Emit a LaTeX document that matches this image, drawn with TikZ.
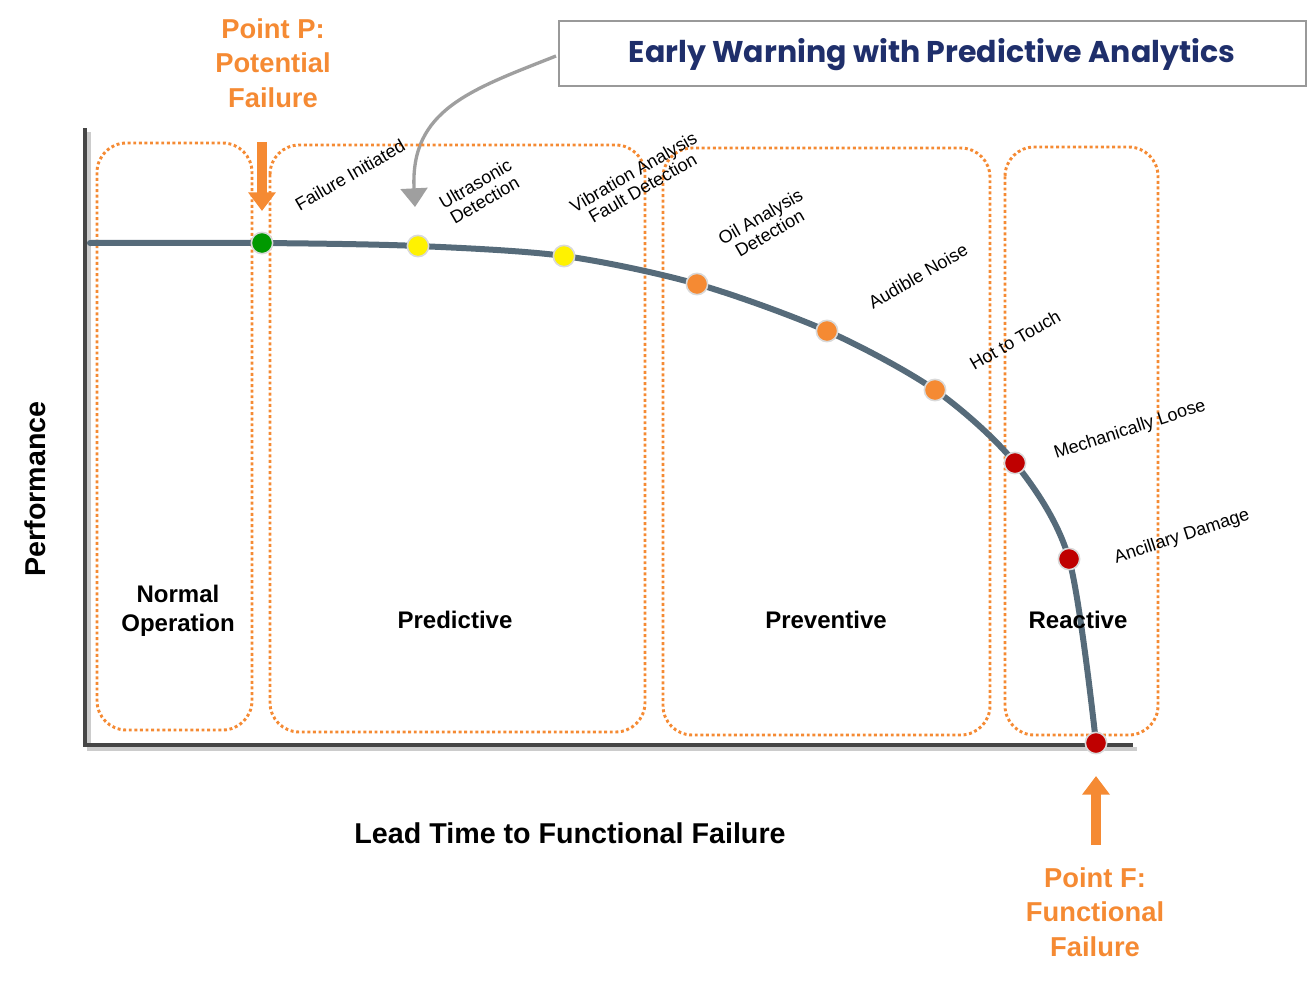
\documentclass[tikz,border=0pt]{standalone}
\usepackage{fontspec}
\setmainfont{Liberation Sans}
\newfontfamily\titlefont{Poppins}
\usetikzlibrary{arrows.meta}
\definecolor{orng}{HTML}{F58A33}
\definecolor{slate}{HTML}{566B7A}
\definecolor{navy}{HTML}{1F2F6B}
\begin{document}
\begin{tikzpicture}[x=0.75pt,y=-0.75pt,
  zone/.style={draw=orng,line width=2.2pt,dotted,rounded corners=22pt},
  lbl/.style={font=\fontsize{13.5}{14}\selectfont,align=center},
  reg/.style={font=\fontsize{18}{22}\selectfont\bfseries,align=center},
  ptxt/.style={font=\fontsize{20.5}{26}\selectfont\bfseries,text=orng,align=center},
  dot/.style={circle,draw=white!70!gray,line width=1.2pt,minimum size=16pt,inner sep=0pt}]
\useasboundingbox (0,0) rectangle (1308,981);
% title
\draw[gray!80,line width=1.2pt] (559,21) rectangle (1306,86);
\node[font=\titlefont\fontsize{22.5}{24}\selectfont\bfseries,text=navy] (title) at (932,55)
  {Early Warning with Predictive Analytics};
\coordinate (ts) at (556,56);
\coordinate (ah) at (415,207);
\draw[gray!75,line width=2.5pt,-{Triangle[length=14pt,width=20pt]}] (ts) .. controls (470,90) and (410,110) .. (ah);
% zones
\draw[zone] (97,143) rectangle (252,730);
\draw[zone] (270,145) rectangle (645,732);
\draw[zone] (663,148) rectangle (990,735);
\draw[zone] (1005,147) rectangle (1158,735);
% axes
\coordinate (o) at (85,745);
\draw[gray!40,line width=3pt] (89,132) -- (89,749) -- (1137,749);
\draw[gray!55!black,line width=2.5pt] (85,128) -- (o) -- (1133,745);
% curve
\draw[slate,line width=4.5pt,line cap=round] plot[smooth,tension=0.5] coordinates
 {(90,243) (262,243) (418,246) (564,256) (697,284) (827,331) (935,390) (1015,463) (1069,559) (1096,743)};
\node[dot,fill=green!60!black] (d1) at (262,243) {};
\node[dot,fill=yellow] (d2) at (418,246) {};
\node[dot,fill=yellow] (d3) at (564,256) {};
\node[dot,fill=orng] (d4) at (697,284) {};
\node[dot,fill=orng] (d5) at (827,331) {};
\node[dot,fill=orng] (d6) at (935,390) {};
\node[dot,fill=red!75!black] (d7) at (1015,463) {};
\node[dot,fill=red!75!black] (d8) at (1069,559) {};
\node[dot,fill=red!75!black] (d9) at (1096,743) {};
% labels
\node[lbl,rotate=30] (l1) at (350,175) {Failure Initiated};
\node[lbl,rotate=30] (l2) at (480,192) {Ultrasonic\\Detection};
\node[lbl,rotate=30] (l3) at (638,180) {Vibration Analysis\\Fault Detection};
\node[lbl,rotate=30] (l4) at (765,225) {Oil Analysis\\Detection};
\node[lbl,rotate=30] (l5) at (918,276) {Audible Noise};
\node[lbl,rotate=30] (l6) at (1015,340) {Hot to Touch};
\node[lbl,rotate=18] (l7) at (1130,430) {Mechanically Loose};
\node[lbl,rotate=18] (l8) at (1182,537) {Ancillary Damage};
% regions
\node[reg] (r1) at (178,611) {Normal\\Operation};
\node[reg] (r2) at (455,620) {Predictive};
\node[reg] (r3) at (826,620) {Preventive};
\node[reg] (r4) at (1078,620) {Reactive};
\node[reg,font=\fontsize{21.5}{24}\selectfont\bfseries,rotate=90] (perf) at (35,489) {Performance};
\node[reg,font=\fontsize{21.5}{24}\selectfont\bfseries] (lead) at (570,833) {Lead Time to Functional Failure};
% points
\node[ptxt] (pp) at (273,63) {Point P:\\Potential\\Failure};
\node[ptxt] (pf) at (1095,912) {Point F:\\Functional\\Failure};
\coordinate (pa) at (262,142);
\coordinate (pb) at (262,211);
\coordinate (fa) at (1096,845);
\coordinate (fb) at (1096,776);
\draw[orng,line width=7pt,-{Triangle[length=14pt,width=20pt]}] (pa) -- (pb);
\draw[orng,line width=7pt,-{Triangle[length=14pt,width=20pt]}] (fa) -- (fb);
\end{tikzpicture}
\end{document}
